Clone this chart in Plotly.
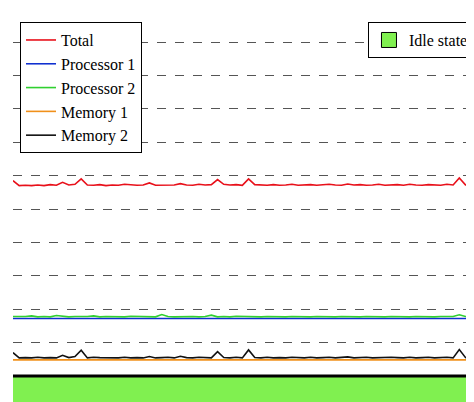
import plotly.graph_objects as go

# time axis (arbitrary units, 0.2 step)
t = [i * 0.2 for i in range(76)]

total = [5.85, 5.70, 5.71, 5.70, 5.72, 5.70, 5.73, 5.71, 5.80, 5.72, 5.74, 5.90, 5.72, 5.71, 5.73, 5.70,
         5.72, 5.71, 5.74, 5.72, 5.71, 5.72, 5.78, 5.71, 5.72, 5.73, 5.72, 5.76, 5.72, 5.71, 5.74, 5.72,
         5.73, 5.88, 5.74, 5.72, 5.73, 5.71, 5.90, 5.73, 5.72, 5.71, 5.73, 5.71, 5.72, 5.74, 5.71, 5.72,
         5.73, 5.71, 5.72, 5.74, 5.72, 5.71, 5.75, 5.72, 5.73, 5.71, 5.72, 5.74, 5.71, 5.72, 5.73, 5.71,
         5.74, 5.72, 5.71, 5.73, 5.72, 5.71, 5.74, 5.72, 5.93, 5.72, 5.71, 5.72]
proc1 = [1.72, 1.71, 1.72, 1.72, 1.71, 1.72, 1.72, 1.71, 1.72, 1.72, 1.71, 1.72, 1.72, 1.71, 1.72, 1.72,
         1.71, 1.72, 1.72, 1.71, 1.72, 1.72, 1.71, 1.72, 1.72, 1.71, 1.72, 1.72, 1.71, 1.72, 1.72, 1.71,
         1.72, 1.72, 1.71, 1.72, 1.72, 1.71, 1.72, 1.72, 1.71, 1.72, 1.72, 1.71, 1.72, 1.72, 1.71, 1.72,
         1.72, 1.71, 1.72, 1.72, 1.71, 1.72, 1.72, 1.71, 1.72, 1.72, 1.71, 1.72, 1.72, 1.71, 1.72, 1.72,
         1.71, 1.72, 1.72, 1.71, 1.72, 1.72, 1.71, 1.72, 1.72, 1.71, 1.72, 1.72]
proc2 = [1.78, 1.77, 1.78, 1.80, 1.77, 1.78, 1.77, 1.81, 1.78, 1.77, 1.78, 1.77, 1.78, 1.80, 1.77, 1.78,
         1.77, 1.78, 1.77, 1.79, 1.78, 1.77, 1.78, 1.77, 1.84, 1.78, 1.77, 1.78, 1.77, 1.78, 1.77, 1.78,
         1.82, 1.77, 1.78, 1.77, 1.79, 1.78, 1.77, 1.78, 1.77, 1.78, 1.77, 1.78, 1.77, 1.78, 1.77, 1.78,
         1.77, 1.78, 1.77, 1.78, 1.77, 1.78, 1.77, 1.78, 1.77, 1.78, 1.77, 1.78, 1.77, 1.78, 1.77, 1.78,
         1.77, 1.78, 1.77, 1.78, 1.77, 1.78, 1.77, 1.78, 1.83, 1.78, 1.77, 1.78]
mem1 = [0.48] * 76
mem2 = [0.70, 0.54, 0.55, 0.54, 0.56, 0.54, 0.55, 0.54, 0.62, 0.55, 0.58, 0.77, 0.54, 0.56, 0.55, 0.54,
        0.55, 0.54, 0.56, 0.54, 0.55, 0.54, 0.58, 0.54, 0.55, 0.56, 0.54, 0.59, 0.55, 0.54, 0.56, 0.55,
        0.54, 0.73, 0.55, 0.54, 0.56, 0.54, 0.78, 0.55, 0.54, 0.56, 0.54, 0.55, 0.54, 0.56, 0.55, 0.54,
        0.56, 0.54, 0.55, 0.56, 0.54, 0.55, 0.57, 0.54, 0.55, 0.56, 0.54, 0.55, 0.54, 0.56, 0.55, 0.54,
        0.56, 0.54, 0.55, 0.56, 0.54, 0.55, 0.56, 0.54, 0.79, 0.55, 0.54, 0.56]

series = [("Total", total, "#e8101a"), ("Processor 1", proc1, "#1030d0"),
          ("Processor 2", proc2, "#30d030"), ("Memory 1", mem1, "#f0901a"),
          ("Memory 2", mem2, "#111111")]

fig = go.Figure()
for name, vals, col in series:
    fig.add_trace(go.Scatter(x=t, y=vals, mode="lines", name=name, line=dict(color=col, width=1.6)))

# idle state band (legend entry only, band drawn as a shape)
fig.add_trace(go.Scatter(x=[None], y=[None], mode="markers", name="Idle state", legend="legend2",
                         marker=dict(symbol="square", size=15, color="#80f050", line=dict(color="black", width=1))))
fig.add_shape(type="rect", xref="paper", x0=0, x1=1, yref="y", y0=-1.1, y1=0, fillcolor="#80f050",
              line_width=0, layer="below")
fig.add_shape(type="line", xref="paper", x0=0, x1=1, yref="y", y0=0, y1=0, line=dict(color="black", width=3))

fig.update_layout(
    width=474, height=402, margin=dict(l=5, r=1, t=0, b=0, autoexpand=False),
    plot_bgcolor="white", paper_bgcolor="white",
    font=dict(family="Liberation Serif", size=17, color="black"),
    showlegend=True,
    legend=dict(x=0.015, y=0.965, xanchor="left", yanchor="top", bordercolor="black", borderwidth=1,
                bgcolor="white", tracegroupgap=0, itemwidth=30, tracegroupgap_=None) if False else
    dict(x=0.015, y=0.965, xanchor="left", yanchor="top", bordercolor="black", borderwidth=1,
         bgcolor="white", itemwidth=30, font=dict(size=16)),
    legend2=dict(x=0.985, y=0.965, xanchor="right", yanchor="top", bordercolor="black", borderwidth=1,
                 bgcolor="white", font=dict(size=16)),
)
fig.update_xaxes(range=[0, 15.1], dtick=1, showgrid=False, showticklabels=False, ticks="inside", ticklen=7,
                 tickcolor="black", showline=True, linecolor="black", mirror=True, zeroline=False,
                 automargin=False)
fig.update_yaxes(range=[-1.02, 11.02], tick0=0, dtick=1, showgrid=True, gridcolor="#555", griddash="dash",
                 gridwidth=1, showticklabels=False, ticks="", showline=False, zeroline=False,
                 automargin=False)

fig.write_html("out.html")
